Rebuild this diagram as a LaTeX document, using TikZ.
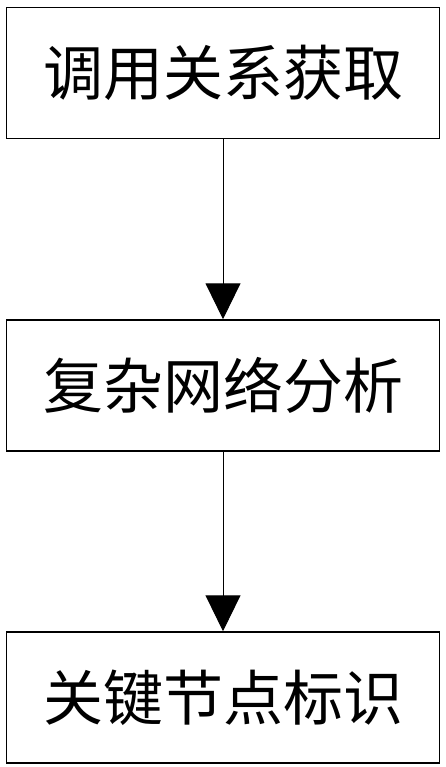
\documentclass[tikz,border=0pt]{standalone}
\usepackage{fontspec}
\newfontfamily\cjk{Noto Sans CJK SC}
\usetikzlibrary{arrows.meta}

\tikzset{
  stepbox/.style={draw, line width=1.5pt, minimum width=433pt, minimum height=131pt,
    inner sep=0pt, font=\cjk\fontsize{60}{60}\selectfont}
}

\begin{document}
\begin{tikzpicture}[x=1pt, y=-1pt, ->, >={Triangle[length=36pt, width=35pt]}, line width=1pt]
      \useasboundingbox (0, 0) rectangle (446, 767);
      \node[stepbox] (get) at (223, 73) {调用关系获取};
      \node[stepbox] (net) at (223, 385.5) {复杂网络分析};
      \node[stepbox] (mark) at (223, 697.5) {关键节点标识};
      \draw [->] (get) -- (net);
      \draw [->] (net) -- (mark);
  \end{tikzpicture}
\end{document}
